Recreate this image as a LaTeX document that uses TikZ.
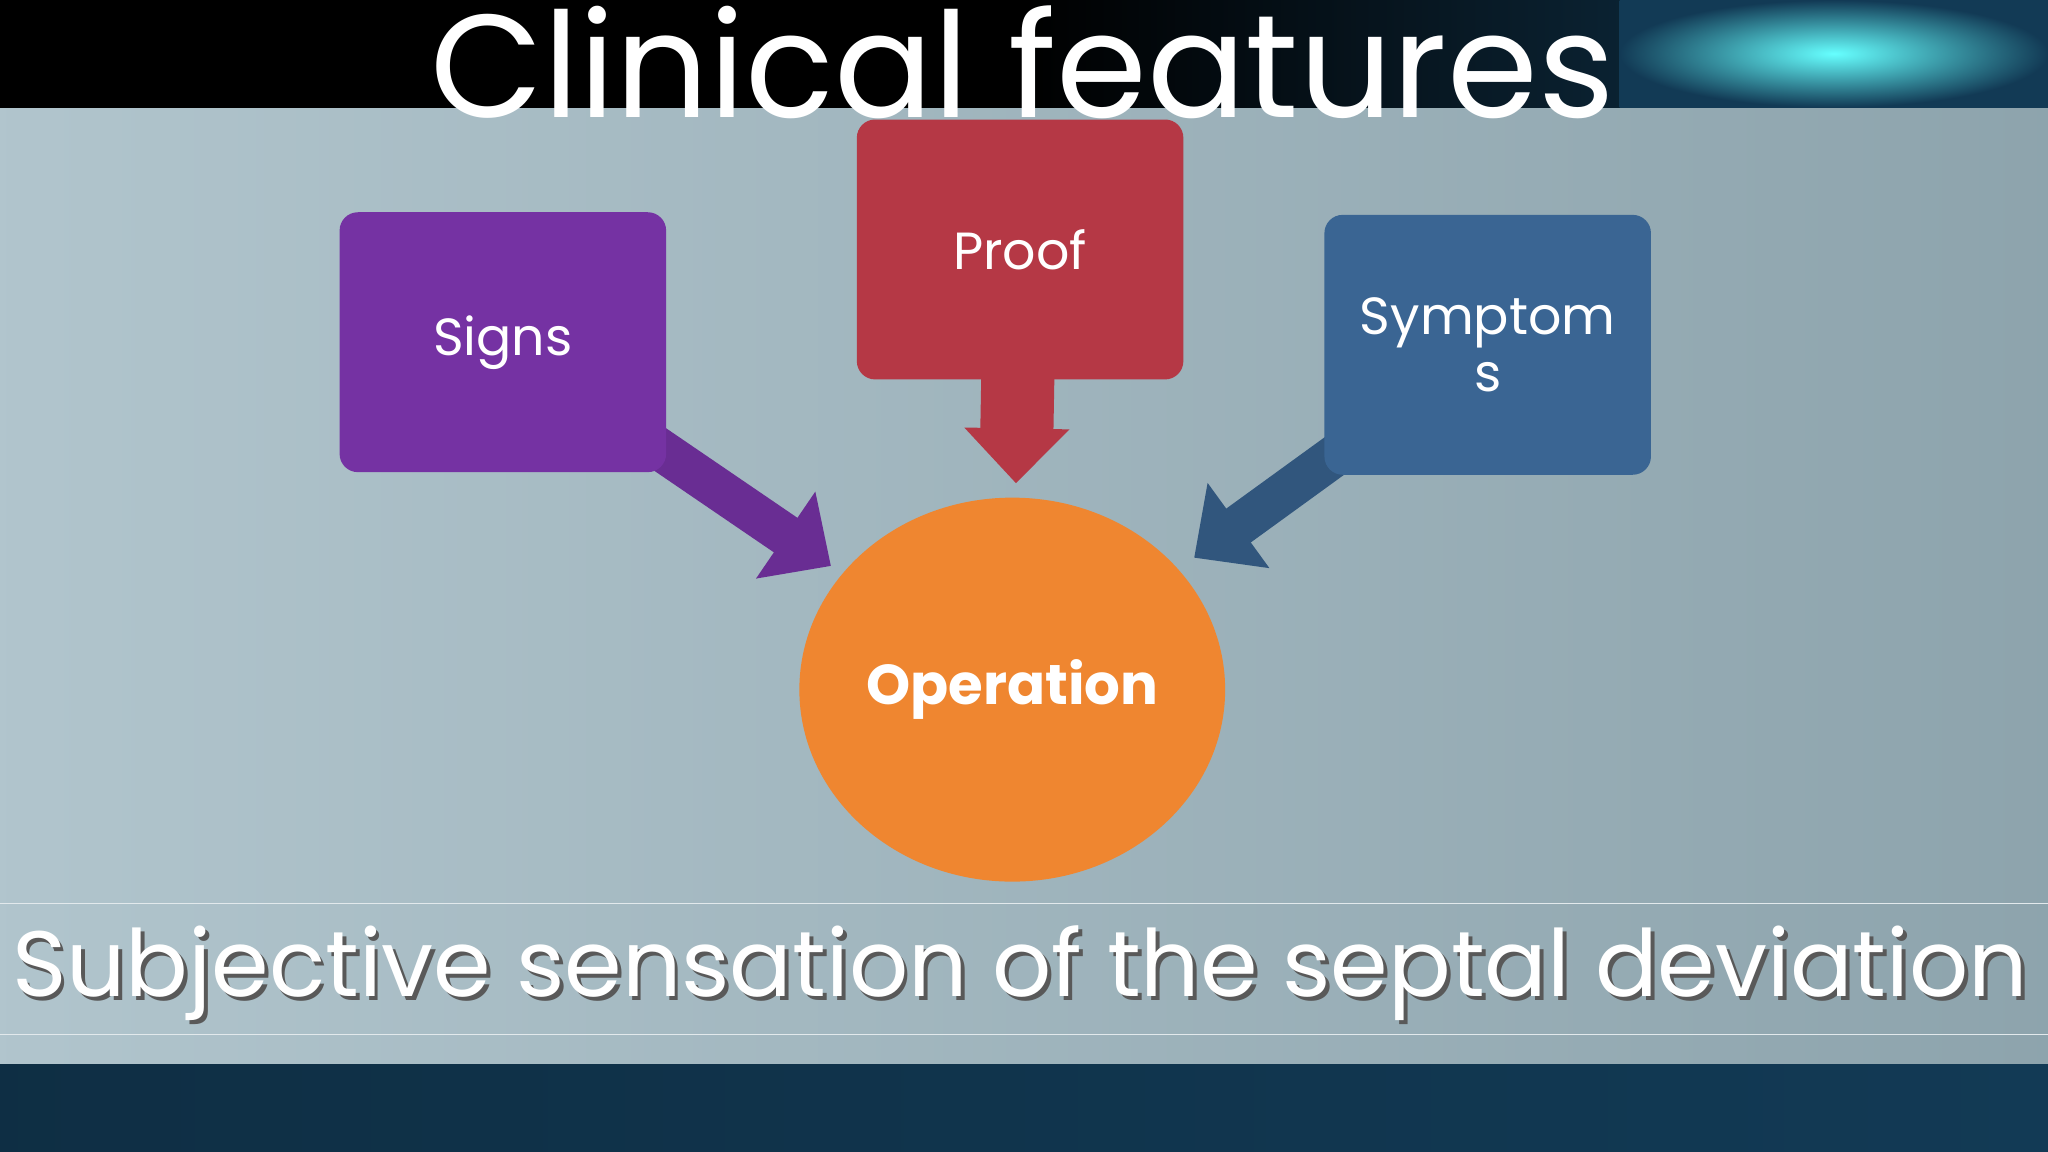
\documentclass[tikz,border=0pt]{standalone}
\usepackage{fontspec}
\setmainfont{Poppins}
\usetikzlibrary{arrows.meta,shapes.geometric}
\pgfdeclarelayer{back}\pgfdeclarelayer{bg}\pgfsetlayers{back,bg,main}
\definecolor{cpurple}{HTML}{7532A3}
\definecolor{cred}{HTML}{B53845}
\definecolor{cblue}{HTML}{3A6593}
\definecolor{corange}{HTML}{EF8630}
\definecolor{cbgmid}{HTML}{9DB6C0}
\definecolor{cbgdark}{HTML}{123A55}
\tikzset{
  box/.style={rounded corners=14pt, minimum width=250pt, minimum height=199pt, text=white, font=\fontsize{40}{44}\selectfont, align=center, inner sep=0pt},
  blockarrow/.style={line width=#1, -{Triangle[length=42pt,width=78pt]}},
}
\begin{document}
\begin{tikzpicture}[x=1pt,y=-1pt]
\useasboundingbox (0,0) rectangle (1568,882);
\begin{pgfonlayer}{back}
\shade[left color=cbgmid!80!white, right color=cbgmid!90!black] (0,80) rectangle (1568,815);
\shade[left color=black, right color=cbgdark, middle color=black] (0,0) rectangle (1568,82);
\shade[inner color=cyan!60!white, outer color=cbgdark] (1240,0) rectangle (1568,82);
\shade[left color=cbgdark!80!black, right color=cbgdark] (0,815) rectangle (1568,882);
\draw[white!70!cbgmid, line width=1pt] (0,692) -- (1568,692) (0,792) -- (1568,792);
\end{pgfonlayer}
% title
\node (title) at (783,48) {\fontsize{112}{112}\selectfont\color{white}Clinical features};
% boxes
\node[box, fill=cpurple] (signs) at (385,262) {Signs};
\node[box, fill=cred] (proof) at (781,191) {Proof};
\node[box, fill=cblue] (symp) at (1139,264) {Symptom\\s};
\node[ellipse, fill=corange, minimum width=326pt, minimum height=294pt, text=white, font=\fontsize{43}{46}\selectfont\bfseries] (op) at (775,528) {Operation};
% arrows
\begin{pgfonlayer}{bg}
\draw[blockarrow=32pt, cpurple!90!black, shorten >=168pt] (signs.center) -- (op.center);
\draw[blockarrow=56pt, cred, shorten >=158pt] (proof.center) -- (op.center);
\draw[blockarrow=32pt, cblue!85!black, shorten >=172pt] (symp.center) -- (op.center);
\end{pgfonlayer}
% bottom text
\node[text=gray!70!black] (subs) at (784,748) {\fontsize{71}{71}\selectfont Subjective sensation of the septal deviation};
\node[text=white] (sub) at (781,745) {\fontsize{71}{71}\selectfont Subjective sensation of the septal deviation};
\end{tikzpicture}
\end{document}
